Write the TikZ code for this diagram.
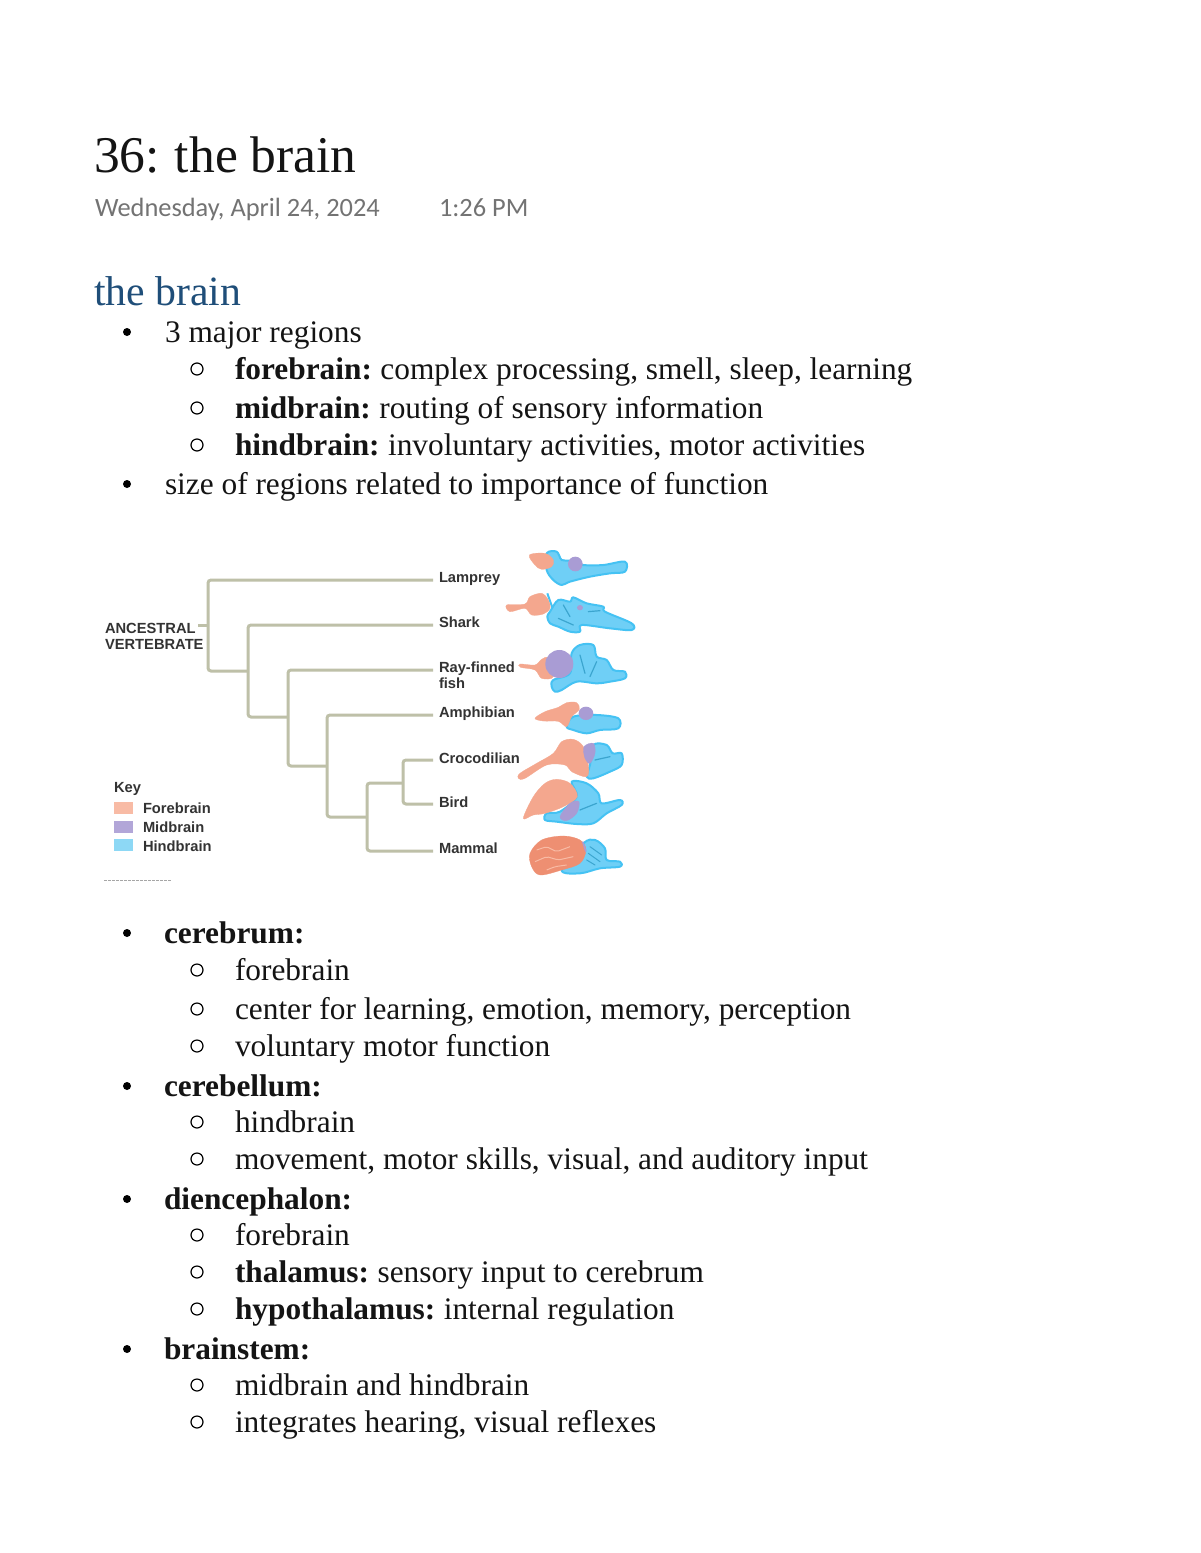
\documentclass[tikz,border=0pt]{standalone}
\usepackage{fontspec}
\setmainfont{Liberation Serif}
\newfontfamily\calib{Carlito}
\newfontfamily\helv{Liberation Sans}
\definecolor{fore}{HTML}{F4A78E}
\definecolor{forelight}{HTML}{F8BBA5}
\definecolor{foredark}{HTML}{EE8F72}
\definecolor{mid}{HTML}{A99CD4}
\definecolor{hind}{HTML}{45C2F3}
\definecolor{hindlight}{HTML}{6FCFF6}
\definecolor{hindkey}{HTML}{8DD8F5}
\definecolor{treeline}{HTML}{BEC0A8}
\definecolor{labelc}{HTML}{333333}
\tikzset{
 txt/.style={anchor=base west,inner sep=0pt,outer sep=0pt,font=\fontsize{31.35}{36}\selectfont,text=black!92},
 lab/.style={anchor=base west,inner sep=0pt,outer sep=0pt,font=\helv\bfseries\fontsize{14.7}{17}\selectfont,text=labelc},
 solidb/.style={circle,fill=black,draw=none,minimum size=8pt,inner sep=0pt},
 hollowb/.style={circle,draw=black,line width=1.2pt,fill=white,minimum size=12pt,inner sep=0pt},
 branch/.style={draw=treeline,line width=3pt,rounded corners=3pt},
 fb/.style={fill=fore,draw=fore,line width=.3pt},
 mb/.style={fill=mid,draw=mid,line width=.3pt},
 hb/.style={fill=hindlight,draw=hind,line width=2pt,line join=round},
 hcrease/.style={draw=hind!85!black,line width=1.2pt,line cap=round},
 swatch/.style={minimum width=19pt,minimum height=12pt,inner sep=0pt,draw=none},
}
\newcommand{\blob}[2]{\path[#1] plot[smooth cycle,tension=.55] coordinates {#2};}
\begin{document}
\begin{tikzpicture}[x=1pt,y=-1pt]
\useasboundingbox[fill=white] (0,0) rectangle (1200,1553);
% header
\node[txt,font=\fontsize{51.5}{56}\selectfont] (title) at (94,172) {36:\hspace{-2pt} the brain};
\node[txt,font=\calib\fontsize{26.4}{30}\selectfont,text=black!55] (date) at (95,216) {Wednesday, April 24, 2024};
\node[txt,font=\calib\fontsize{26.4}{30}\selectfont,text=black!55] (time) at (439,216) {1:26 PM};
\node[txt,font=\fontsize{41.7}{46}\selectfont,text={rgb,255:red,31;green,78;blue,121}] (head) at (94,305) {the brain};
% bullets and text
\foreach \n/\y/\t in {a/342/3 major regions,b/494/size of regions related to importance of function}{
  \node[solidb] (bl\n) at (127,\y-10) {};
  \node[txt] (t\n) at (165,\y) {\t};
}
\foreach \n/\y/\t in {
  c/379/{\textbf{forebrain:}\hspace{-2pt} complex processing, smell, sleep, learning},
  d/418/{\textbf{midbrain:}\hspace{-2pt} routing of sensory information},
  e/455/{\textbf{hindbrain:}\hspace{-2pt} involuntary activities, motor activities},
  g/980/forebrain,
  h/1019/{center for learning, emotion, memory, perception},
  i/1056/voluntary motor function,
  k/1132/hindbrain,
  l/1169/{movement, motor skills, visual, and auditory input},
  n/1245/forebrain,
  o/1282/{\textbf{thalamus:}\hspace{-2pt} sensory input to cerebrum},
  p/1319/{\textbf{hypothalamus:}\hspace{-2pt} internal regulation},
  r/1395/midbrain and hindbrain,
  s/1432/{integrates hearing, visual reflexes}}{
  \node[hollowb] (bl\n) at (197,\y-10) {};
  \node[txt] (t\n) at (235,\y) {\t};
}
\foreach \n/\y/\t in {f/943/cerebrum:,j/1096/cerebellum:,m/1209/diencephalon:,q/1359/brainstem:}{
  \node[solidb] (bl\n) at (127,\y-10) {};
  \node[txt] (t\n) at (164,\y) {\textbf{\t}};
}
% tree labels
\node[lab] (anc1) at (105,633) {ANCESTRAL};
\node[lab] (anc2) at (105,649) {VERTEBRATE};
\node[lab] (lam) at (439,582) {Lamprey};
\node[lab] (sha) at (439,627) {Shark};
\node[lab] (ray) at (439,672) {Ray-finned};
\node[lab] (fis) at (439,688) {fish};
\node[lab] (amp) at (439,717) {Amphibian};
\node[lab] (cro) at (439,763) {Crocodilian};
\node[lab] (bir) at (439,807) {Bird};
\node[lab] (mam) at (439,853) {Mammal};
% tree
\coordinate (root) at (198,625);
\coordinate (n1) at (208,625);
\coordinate (n2) at (248,671);
\coordinate (n3) at (288,717);
\coordinate (n4) at (327,766);
\coordinate (n5) at (367,817);
\coordinate (n6) at (403,783);
\coordinate (elam) at (433,580);
\coordinate (esha) at (433,625);
\coordinate (eray) at (433,670);
\coordinate (eamp) at (433,715);
\coordinate (ecro) at (433,760);
\coordinate (ebir) at (433,804);
\coordinate (emam) at (433,851);
\draw[branch] (root) -- (n1);
\draw[branch] (elam) -- (208,580) -- (208,671) -- (n2);
\draw[branch] (esha) -- (248,625) -- (248,717) -- (n3);
\draw[branch] (eray) -- (288,670) -- (288,766) -- (n4);
\draw[branch] (eamp) -- (327,715) -- (327,817) -- (n5);
\draw[branch] (n6) -- (367,783) -- (367,851) -- (emam);
\draw[branch] (ecro) -- (403,760) -- (403,804) -- (ebir);
% key
\node[lab] (key) at (114,792) {Key};
\node[swatch,fill=forelight,anchor=north west] (s1) at (114,802) {};
\node[swatch,fill=mid!90,anchor=north west] (s2) at (114,821) {};
\node[swatch,fill=hindkey,anchor=north west] (s3) at (114,839) {};
\node[lab] (k1) at (143,813) {Forebrain};
\node[lab] (k2) at (143,832) {Midbrain};
\node[lab] (k3) at (143,851) {Hindbrain};
\draw[black!35,line width=.8pt,dash pattern=on 3pt off 1pt] (104,880) -- (172,880);
% brains, top group (coordinates of a 3x crop)
\begin{scope}[shift={(430,540)},x=0.3333pt,y=-0.3333pt]
 % lamprey
 \blob{hb}{(350,40)(380,35)(395,60)(420,62)(460,75)(520,75)(585,65)(585,95)(540,100)(480,110)(420,125)(395,135)(370,120)(350,90)}
 \blob{fb}{(298,45)(345,40)(370,60)(365,80)(335,88)(315,75)}
 \fill[mid] (436,72) circle[radius=22];
 % shark
 \draw[hind,line width=2pt] (352,160) -- (368,205);
 \blob{hb}{(360,215)(385,180)(420,185)(430,172)(470,190)(520,200)(525,215)(605,250)(605,270)(540,265)(455,255)(450,275)(420,275)(385,260)(360,250)(352,230)}
 \path[hcrease] (400,195) -- (420,230) (475,215) -- (510,212) (385,235) -- (430,255);
 \blob{fb}{(230,195)(285,192)(300,170)(335,160)(355,180)(360,205)(340,222)(305,225)(285,205)(240,215)}
 \fill[mid] (450,203) ellipse[x radius=9,y radius=8];
 % ray-finned
 \blob{hb}{(365,440)(370,420)(420,400)(425,340)(450,315)(490,315)(500,350)(530,360)(550,390)(585,395)(585,415)(540,425)(500,430)(440,425)(395,450)(375,455)}
 \path[hcrease] (450,345) -- (465,400) (500,365) -- (480,410);
 \blob{fb}{(270,372)(315,375)(335,358)(355,355)(370,410)(335,415)(315,390)(272,382)}
 \fill[mid] (388,372) circle[radius=42];
\end{scope}
\begin{scope}[shift={(430,700)},x=0.3333pt,y=-0.3333pt]
 % amphibian
 \blob{hb}{(410,80)(430,50)(500,45)(565,55)(565,85)(510,90)(470,100)(430,90)}
 \blob{fb}{(315,55)(345,35)(385,22)(410,8)(440,8)(448,28)(425,50)(410,80)(385,64)(340,63)}
 \fill[mid] (468,40) ellipse[x radius=22,y radius=20];
 % crocodilian
 \blob{hb}{(480,195)(490,135)(530,135)(548,160)(575,160)(575,195)(540,215)(490,235)(470,230)}
 \path[hcrease] (495,180) -- (540,170);
 \blob{fb}{(265,235)(270,220)(320,190)(370,160)(395,125)(430,118)(460,140)(475,195)(470,230)(425,215)(405,195)(350,195)(285,235)}
 \blob{mb}{(462,140)(490,130)(495,160)(480,190)(465,175)}
 % bird
 \blob{hb}{(425,245)(470,250)(505,280)(515,310)(570,300)(575,315)(530,340)(490,370)(440,372)(380,365)(345,360)(350,340)(390,335)(440,290)}
 \path[hcrease] (450,330) -- (500,310);
 \blob{fb}{(280,355)(310,290)(345,250)(380,238)(420,250)(442,290)(400,320)(345,340)(310,345)}
 \blob{mb}{(390,350)(420,310)(447,305)(440,340)(410,362)}
 % mammal
 \blob{hb}{(395,510)(460,430)(495,420)(525,445)(530,480)(570,485)(570,500)(510,505)(450,520)}
 \path[hcrease,line width=1pt] (480,440) -- (515,465) (475,460) -- (510,485) (470,480) -- (495,495);
 \blob{fill=foredark,draw=foredark,line width=.3pt}{(300,460)(335,420)(400,408)(450,420)(468,450)(450,490)(395,510)(330,525)(305,500)}
 \draw[mid,line width=1.5pt] (458,425) -- (468,455);
 \draw[forelight,line width=1pt,rounded corners=2pt]
   (320,450) -- (350,440) -- (380,455) -- (420,440)
   (315,485) -- (350,470) -- (385,480) -- (430,470)
   (350,510) -- (375,500) -- (410,495);
\end{scope}
\end{tikzpicture}
\end{document}
